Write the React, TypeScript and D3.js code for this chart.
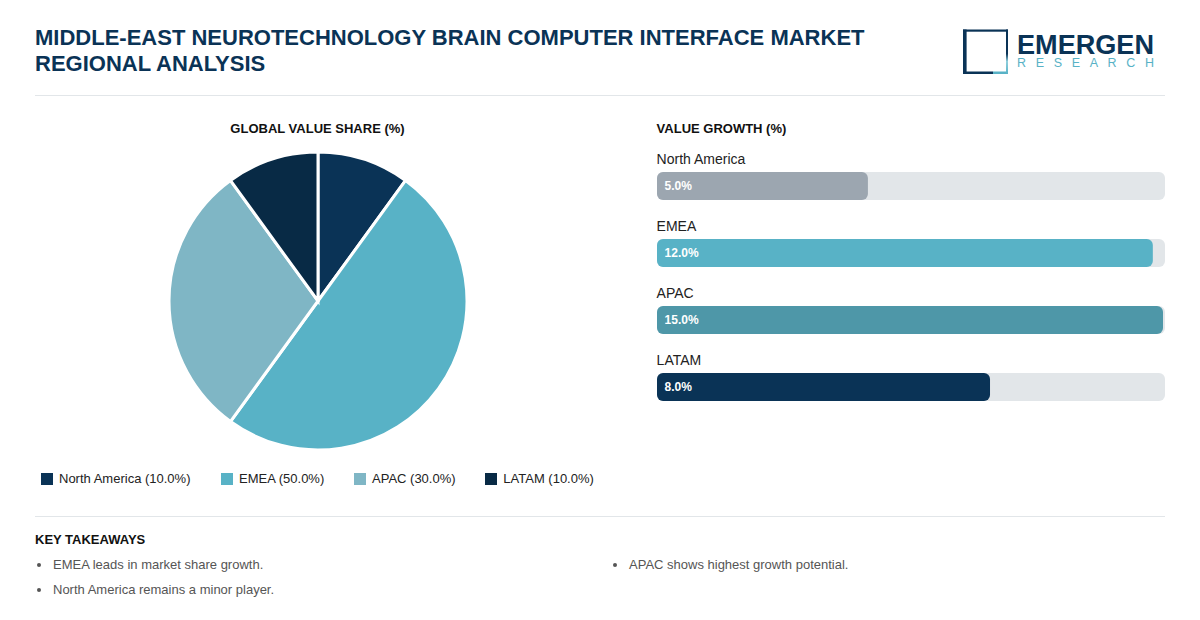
import { useEffect, useRef } from 'react';
import * as d3 from 'd3';

const regions = ['North America', 'EMEA', 'APAC', 'LATAM'];
const shareValues = [10, 50, 30, 10];
const growthValues = [5, 12, 15, 8];
const pieColors = ['#0a3356', '#58b2c6', '#7fb6c5', '#082a45'];
const barColors = ['#9ca6b0', '#58b2c6', '#4e97a8', '#0a3356'];
const titleLines = [
  'MIDDLE-EAST NEUROTECHNOLOGY BRAIN COMPUTER INTERFACE MARKET',
  'REGIONAL ANALYSIS',
];
const takeawaysLeft = ['EMEA leads in market share growth.', 'North America remains a minor player.'];
const takeawaysRight = ['APAC shows highest growth potential.'];

const FONT = '"Liberation Sans", Arial, sans-serif';
const legendX = [41, 221, 354, 485.3];

export default function App() {
  const svgRef = useRef<SVGSVGElement>(null);

  useEffect(() => {
    if (!svgRef.current) return;
    const svg = d3.select(svgRef.current);
    svg.selectAll('*').remove();
    svg.style('font-family', FONT);

    const text = (x: number, y: number, str: string, size: number, fill: string, weight = 'normal') =>
      svg.append('text')
        .attr('x', x)
        .attr('y', y)
        .attr('font-size', size)
        .attr('font-weight', weight)
        .attr('fill', fill)
        .text(str);

    const rule = (y: number) =>
      svg.append('line')
        .attr('x1', 35)
        .attr('x2', 1165)
        .attr('y1', y)
        .attr('y2', y)
        .attr('stroke', '#e2e6e9')
        .attr('stroke-width', 1);

    // Header
    titleLines.forEach((line, i) => text(35, 45 + i * 26, line, 22, '#0a3356', 'bold'));
    rule(95.5);
    rule(516.5);

    // Logo
    const defs = svg.append('defs');
    const grad = defs.append('linearGradient')
      .attr('id', 'logoEdge')
      .attr('gradientUnits', 'userSpaceOnUse')
      .attr('x1', 0).attr('x2', 0).attr('y1', 29).attr('y2', 74);
    grad.append('stop').attr('offset', '0%').attr('stop-color', '#0a3356');
    grad.append('stop').attr('offset', '55%').attr('stop-color', '#0a3356');
    grad.append('stop').attr('offset', '72%').attr('stop-color', '#8fcfdd');
    grad.append('stop').attr('offset', '100%').attr('stop-color', '#58b2c6');
    const logo = svg.append('g');
    logo.append('rect').attr('x', 963).attr('y', 29.5).attr('width', 3.6).attr('height', 44.5).attr('fill', '#0a3356');
    logo.append('rect').attr('x', 963).attr('y', 29.5).attr('width', 45).attr('height', 2.2).attr('fill', '#0a3356');
    logo.append('rect').attr('x', 963).attr('y', 71.5).attr('width', 30).attr('height', 2.5).attr('fill', '#0a3356');
    logo.append('rect').attr('x', 993).attr('y', 71.5).attr('width', 15).attr('height', 2.5).attr('fill', '#58b2c6');
    logo.append('rect').attr('x', 1006).attr('y', 29.5).attr('width', 2).attr('height', 44.5).attr('fill', 'url(#logoEdge)');
    text(1017, 54.3, 'EMERGEN', 27, '#0a3356', 'bold').attr('textLength', 137).attr('lengthAdjust', 'spacingAndGlyphs');
    text(1017, 67.4, 'RESEARCH', 12.5, '#58b2c6').attr('textLength', 137);

    // Pie
    text(317.5, 133, 'GLOBAL VALUE SHARE (%)', 13, '#111', 'bold').attr('text-anchor', 'middle');
    const pie = d3.pie<number>().sort(null).value((d) => d);
    const arc = d3.arc<d3.PieArcDatum<number>>().innerRadius(0).outerRadius(149);
    svg.append('g')
      .attr('transform', 'translate(318,301)')
      .selectAll('path')
      .data(pie(shareValues))
      .enter()
      .append('path')
      .attr('d', arc)
      .attr('fill', (d, i) => pieColors[i])
      .attr('stroke', '#fff')
      .attr('stroke-width', 3);

    // Legend
    regions.forEach((name, i) => {
      svg.append('rect')
        .attr('x', Math.floor(legendX[i]))
        .attr('y', 473)
        .attr('width', 12)
        .attr('height', 12)
        .attr('fill', pieColors[i]);
      text(legendX[i] + 18, 483, `${name} (${shareValues[i].toFixed(1)}%)`, 13, '#222');
    });

    // Growth bars
    text(656.6, 133, 'VALUE GROWTH (%)', 13, '#111', 'bold');
    const trackX = 657;
    const trackW = 508;
    const barW = d3.scaleLinear().domain([0, 12.25]).range([7.4, trackW - 2]).clamp(true);
    const rowY = d3.scaleBand<string>().domain(regions).range([172, 440]).paddingInner(0);
    regions.forEach((name, i) => {
      const y = rowY(name) as number;
      text(trackX - 0.4, y - 8, name, 14, '#222');
      svg.append('rect')
        .attr('x', trackX).attr('y', y)
        .attr('width', trackW).attr('height', 28)
        .attr('rx', 6)
        .attr('fill', '#e2e6e9');
      svg.append('rect')
        .attr('x', trackX).attr('y', y)
        .attr('width', barW(growthValues[i])).attr('height', 28)
        .attr('rx', 6)
        .attr('fill', barColors[i]);
      text(trackX + 7.6, y + 18, `${growthValues[i].toFixed(1)}%`, 12, '#fff', 'bold');
    });

    // Takeaways
    text(35, 544, 'KEY TAKEAWAYS', 13, '#111', 'bold');
    const bullet = (x: number, y: number, str: string) => {
      svg.append('circle').attr('cx', x).attr('cy', y - 4).attr('r', 2).attr('fill', '#555');
      text(x + 14, y, str, 13, '#555');
    };
    takeawaysLeft.forEach((t, i) => bullet(39, 569 + i * 25, t));
    takeawaysRight.forEach((t, i) => bullet(615, 569 + i * 25, t));
  }, []);

  return (
    <svg
      ref={svgRef}
      width={1200}
      height={620}
      style={{ position: 'absolute', left: 0, top: 0, display: 'block', background: '#fff' }}
    />
  );
}
